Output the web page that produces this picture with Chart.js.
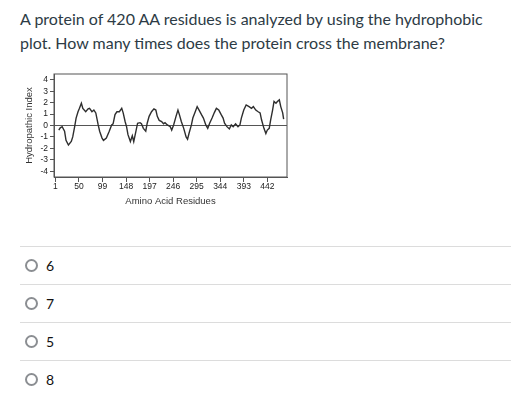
<!DOCTYPE html>
<html><head><meta charset="utf-8">
<script src="https://cdn.jsdelivr.net/npm/chart.js@4"></script>
<style>
body{margin:0;background:#fff;font-family:Lato,sans-serif;color:#2d3b45;}
#q{position:absolute;left:20px;top:7px;width:495px;font-size:16px;line-height:24px;white-space:nowrap;}
#wrap{position:absolute;left:0;top:60px;width:300px;height:160px;}
.sep{position:absolute;left:20px;width:491px;height:1px;background:#dcdcdc;}
.opt{position:absolute;left:25px;height:16px;display:flex;align-items:center;font-size:14px;color:#111;}
.rad{width:9px;height:9px;border:2px solid #8b8e92;border-radius:50%;margin-right:8px;}
</style></head>
<body>
<div id="q">A protein of 420 AA residues is analyzed by using the hydrophobic<br>plot. How many times does the protein cross the membrane?</div>
<div id="wrap"><canvas id="c"></canvas></div>
<div id="opts"></div>
<script>
const residues = [8,11,15,20,23,28,34,37,41,44,48,51,55,58,64,69,72,77,81,85,90,93,98,101,107,113,118,121,125,129,134,139,142,146,149,152,157,161,164,169,172,177,180,184,189,192,196,201,206,210,213,217,222,226,229,234,240,243,247,252,256,259,263,268,273,276,279,284,287,292,296,300,305,309,314,318,322,327,332,336,341,346,350,353,358,363,367,371,376,381,385,388,393,398,404,409,413,418,423,427,430,435,439,442,446,449,453,456,460,463,467,470,474,476];
const hydropathy = [-0.4,-0.2,-0.1,-0.5,-1.3,-1.7,-1.4,-1.0,-0.1,0.65,1.2,1.5,1.95,1.5,1.2,1.45,1.5,1.2,1.35,1.1,0.05,-0.5,-1.1,-1.3,-1.1,-0.5,0.05,0.15,0.95,1.2,1.2,1.5,1.1,0.35,-0.1,-0.8,-1.4,-0.9,-1.4,-0.4,0.2,0.25,0.15,-0.25,-0.5,0.2,0.8,1.2,1.45,1.35,0.8,0.45,0.35,0.15,0.25,0.05,-0.1,-0.4,0.05,0.8,1.35,0.95,0.35,-0.25,-1.0,-1.2,-0.7,0.05,0.65,1.2,1.65,1.35,0.95,0.65,0.05,-0.25,0.2,0.65,1.15,1.5,1.35,0.95,0.65,0.2,-0.1,-0.3,0.05,-0.1,0.15,-0.1,0.05,0.65,1.35,1.8,1.65,1.5,1.65,1.35,1.2,1.1,0.5,-0.25,-0.7,-0.4,-0.25,0.5,1.35,2.1,1.95,2.1,2.25,1.65,1.1,0.55];
const xTicks = [1,50,99,148,197,246,295,344,393,442];
const yTicks = [-4,-3,-2,-1,0,1,2,3,4];
const answers = ['6','7','5','8'];

// answer list
const optBox = document.getElementById('opts');
const sepY = [246,284,322,360];
answers.forEach((a,i)=>{
  const s=document.createElement('div');s.className='sep';s.style.top=sepY[i]+'px';optBox.appendChild(s);
  const o=document.createElement('div');o.className='opt';o.style.top=(sepY[i]+11)+'px';
  o.innerHTML='<span class="rad"></span><span>'+a+'</span>';optBox.appendChild(o);
});

const axisFont = {family:'Liberation Sans, Arial, sans-serif', size:8.5};
const titleFont = {family:'Liberation Sans, Arial, sans-serif', size:9.5};
const frame = {id:'frame', afterDatasetsDraw(ch){
  const a=ch.chartArea, c=ch.ctx; c.save(); c.strokeStyle='#555'; c.lineWidth=1;
  c.strokeRect(a.left,a.top,a.right-a.left,a.bottom-a.top); c.restore();
}};
new Chart(document.getElementById('c'), {
  type:'line',
  data:{datasets:[{data:residues.map((r,i)=>({x:r,y:hydropathy[i]})), borderColor:'#2e2e2e', borderWidth:1.4, pointRadius:0, tension:0}]},
  options:{
    responsive:true, maintainAspectRatio:false, animation:false,
    layout:{padding:{top:14,right:13,left:0,bottom:0}},
    plugins:{legend:{display:false}, tooltip:{enabled:false}},
    scales:{
      x:{type:'linear', min:-2, max:483,
        afterBuildTicks:s=>{s.ticks=xTicks.map(v=>({value:v}));},
        afterFit:s=>{s.height=43;},
        grid:{drawOnChartArea:false, drawTicks:true, tickLength:5, color:'#555'},
        border:{display:true,color:'#555',width:1},
        ticks:{font:axisFont,color:'#222',padding:0,maxRotation:0,autoSkip:false},
        title:{display:true,text:'Amino Acid Residues',font:titleFont,color:'#333',padding:{top:0,bottom:13.3}}
      },
      y:{min:-4.5, max:4.5,
        afterBuildTicks:s=>{s.ticks=yTicks.map(v=>({value:v}));},
        afterFit:s=>{s.width=54;},
        grid:{drawOnChartArea:true, drawTicks:true, tickLength:4,
          color:c=>(c.tick && c.tick.value===0)?'#555':'rgba(0,0,0,0)', tickColor:'#555'},
        border:{display:true,color:'#555',width:1},
        ticks:{font:axisFont,color:'#222',padding:2,autoSkip:false},
        title:{display:true,text:'Hydropathic Index',font:titleFont,color:'#333',padding:{top:23.6,bottom:0}}
      }
    }
  },
  plugins:[frame]
});
</script>
</body></html>
